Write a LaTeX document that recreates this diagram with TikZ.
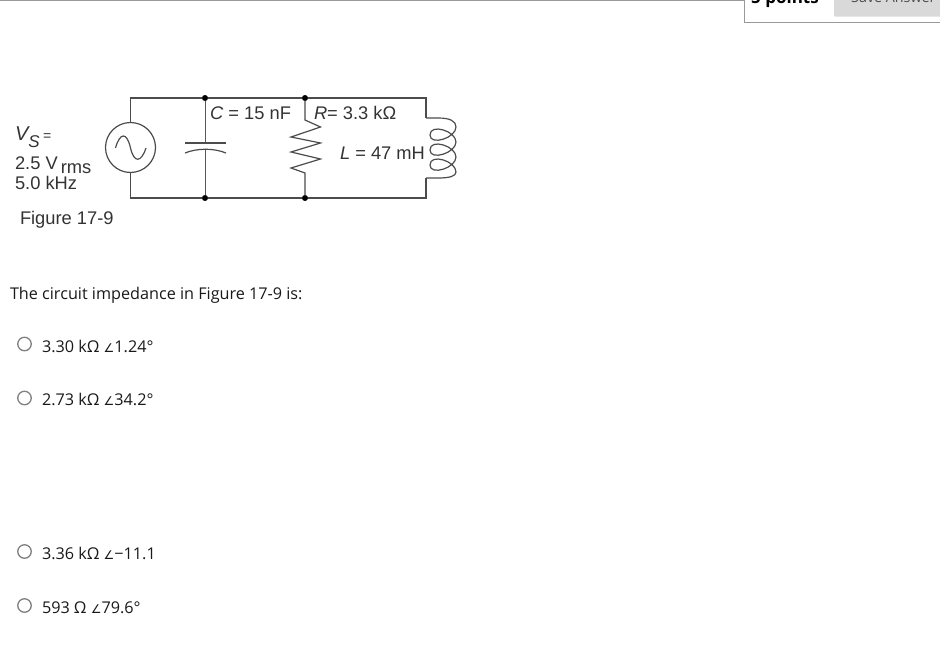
\documentclass[tikz,border=0pt]{standalone}
\usepackage{fontspec}
\setmainfont{Open Sans}
\newfontfamily\figfont{Liberation Sans}
\newfontfamily\symfont{DejaVu Sans}
\newcommand{\ang}{{\symfont\fontsize{12}{12}\selectfont ∠}}
\tikzset{
	wire/.style={line width=1.2pt,draw=black!70},
	thinwire/.style={line width=0.8pt,draw=black!65},
	dot/.style={draw,circle,fill=black,inner sep=0,outer sep=0,minimum size=5.5pt},
	figtext/.style={inner sep=0,outer sep=0,anchor=base west,text=black!80,font=\figfont\fontsize{18.3}{18.3}\selectfont},
	bodytext/.style={inner sep=0,outer sep=0,anchor=base west,text=black!90,font=\fontsize{16.2}{16.2}\selectfont},
	radio/.style={draw=black!50,line width=1.3pt,circle,fill=white,inner sep=0,minimum size=13.5pt},
}
\begin{document}
\begin{tikzpicture}[x=1pt,y=-1pt]
	\useasboundingbox (0,0) rectangle (940,645);
	% page header
	\begin{scope}
		\clip (0,0) rectangle (940,645);
		\fill[black!15,rounded corners=1pt] (834,-5) rectangle (945,16.5);
		\draw[black!40,line width=0.8pt] (0,0.5) -- (744.5,0.5) -- (744.5,22) -- (945,22);
		\node[inner sep=0,anchor=base west,font=\bfseries\fontsize{17}{17}\selectfont] (points) at (751,3.5) {5 points};
		\node[inner sep=0,anchor=base west,text=black!70,font=\fontsize{14.3}{14.3}\selectfont] (save) at (851,2.5) {Save Answer};
	\end{scope}
	% circuit
	\node[dot] (topC) at (205,98) {};
	\node[dot] (topR) at (305,98) {};
	\node[dot] (botC) at (205,198) {};
	\node[dot] (botR) at (305,198) {};
	\node[wire,circle,inner sep=0,minimum size=50pt] (src) at (130.5,147.5) {};
	\coordinate (capA) at (205,143);
	\coordinate (capB) at (205,149);
	\coordinate (resA) at (305,120);
	\coordinate (resB) at (305,173);
	\coordinate (indA) at (426,118);
	\coordinate (indB) at (426,178);
	\draw[wire] (src.north) |- (topC) -- (topR) -| (indA);
	\draw[wire] (src.south) |- (botC) -- (botR) -| (indB);
	\draw[thinwire] (topC) -- (capA);
	\draw[thinwire] (capB) -- (botC);
	\draw[wire] (185,143) -- (226,143);
	\draw[wire] (185,153) .. controls (197,148) and (214,148) .. (226,153);
	\draw[wire] (115.5,148) .. controls (120,132) and (127,132) .. (130.5,148)
		.. controls (134,163) and (141,163) .. (146,148);
	\draw[wire] (topR) -- (resA) -- (320.5,127) -- (291,137) -- (320.5,143) -- (291,152) -- (320.5,159) -- (291,168) -- (resB) -- (botR);
	\draw[wire] (indA) -- (438,118) .. controls (450,118) and (456,121) .. (456,127)
		.. controls (456,138) and (430,146) .. (430,135)
		.. controls (430,123) and (456,131) .. (456,142)
		.. controls (456,153) and (430,161) .. (430,150)
		.. controls (430,138) and (456,146) .. (456,157)
		.. controls (456,168) and (430,176) .. (430,165)
		.. controls (430,153) and (456,161) .. (456,172)
		.. controls (456,176) and (450,178) .. (438,178) -- (indB);
	% figure labels
	\node[figtext,font=\figfont\itshape\fontsize{20}{20}\selectfont] (vs) at (15,140.5) {V\raisebox{-7pt}{\fontsize{17}{17}\selectfont S}\upshape\,\raisebox{0pt}{\fontsize{14}{14}\selectfont =}};
	\node[figtext] (volts) at (15,169.5) {2.5 V\,\raisebox{-4pt}{rms}};
	\node[figtext] (freq) at (15,189.5) {5.0 kHz};
	\node[figtext] (figname) at (20,224.5) {Figure 17-9};
	\node[figtext] (capname) at (210,119.5) {\textit{C} = 15 nF};
	\node[figtext] (resname) at (314,119) {\textit{R}= 3.3 kΩ};
	\node[figtext] (indname) at (340,159) {\textit{L} = 47 mH};
	% question
	\node[bodytext] (question) at (10,299) {The circuit impedance in Figure 17-9 is:};
	\node[radio] (optA) at (24.5,344) {};
	\node[radio] (optB) at (24.5,398) {};
	\node[radio] (optC) at (24.5,551.5) {};
	\node[radio] (optD) at (24.5,605.5) {};
	\node[bodytext] (textA) at (42,352) {3.30 kΩ \ang1.24°};
	\node[bodytext] (textB) at (42,405.5) {2.73 kΩ \ang34.2°};
	\node[bodytext] (textC) at (42,559.5) {3.36 kΩ \ang−11.1};
	\node[bodytext] (textD) at (42,613) {593 Ω \ang79.6°};
\end{tikzpicture}
\end{document}
